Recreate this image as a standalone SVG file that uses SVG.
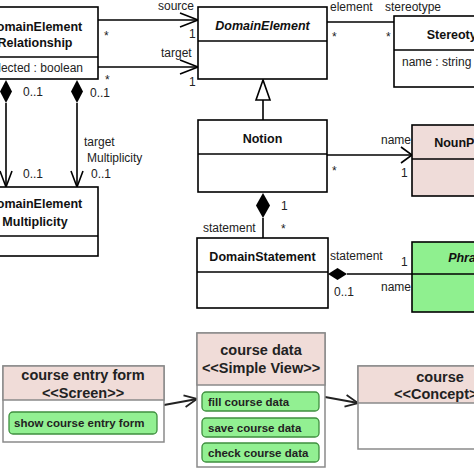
<svg xmlns="http://www.w3.org/2000/svg" width="474" height="474" viewBox="0 0 474 474">
<style>
.box{fill:#fff;stroke:#000;stroke-width:1.6}
.pink{fill:#efdcd9;stroke:#000;stroke-width:1.6}
.green{fill:#8ff08f;stroke:#000;stroke-width:1.6}
.ln{stroke:#000;stroke-width:1.6;fill:none}
.t{font-family:"Liberation Sans",Arial,sans-serif;font-size:12px;fill:#222}
.b{font-family:"Liberation Sans",Arial,sans-serif;font-size:12.5px;font-weight:bold;fill:#111;text-anchor:middle}
.bi{font-style:italic}
.gbox{fill:#fff;stroke:#8a8a8a;stroke-width:1.5}
.ghead{fill:#f0dcd8;stroke:#8a8a8a;stroke-width:1.5}
.item{fill:#92f092;stroke:#3f8f3f;stroke-width:1.3}
.h{font-family:"Liberation Sans",Arial,sans-serif;font-size:14.5px;font-weight:bold;fill:#222;text-anchor:middle}
.it{font-family:"Liberation Sans",Arial,sans-serif;font-size:11.5px;font-weight:bold;fill:#222}
.arr{stroke:#222;stroke-width:1.8;fill:none}
</style>
<rect width="474" height="474" fill="#fff"/>
<g id="connectors">
  <line class="ln" x1="98" y1="20" x2="198" y2="20"/>
  <polyline class="ln" points="180,13 198,20 180,27"/>
  <line class="ln" x1="98" y1="67" x2="198" y2="67"/>
  <polyline class="ln" points="180,60 198,67 180,74"/>
  <line class="ln" x1="327" y1="22" x2="394" y2="22"/>
  <line class="ln" x1="263" y1="100" x2="263" y2="120"/>
  <polygon class="box" points="263,80 256,100 270,100"/>
  <line class="ln" x1="327" y1="155" x2="412" y2="155"/>
  <polyline class="ln" points="401,147 412,155 401,163"/>
  <line class="ln" x1="263" y1="218" x2="263" y2="238"/>
  <polygon points="263,193 270,205.5 263,218 256,205.5" fill="#000"/>
  <line class="ln" x1="347" y1="274" x2="412" y2="274"/>
  <polygon points="328,274 337.5,268 347,274 337.5,280" fill="#000"/>
  <line class="ln" x1="6" y1="103" x2="6" y2="187"/>
  <polygon points="6,80 12,91.5 6,103 0,91.5" fill="#000"/>
  <polyline class="ln" points="0,171 6,187 12,171"/>
  <line class="ln" x1="77" y1="103" x2="77" y2="187"/>
  <polygon points="77,80 83,91.5 77,103 71,91.5" fill="#000"/>
  <polyline class="ln" points="71,171 77,187 83,171"/>
  <line class="arr" x1="164" y1="405" x2="197" y2="399"/>
  <polyline class="arr" points="183.5,395.4 197,399 185.6,407.1"/>
  <line class="arr" x1="325" y1="397" x2="358" y2="403"/>
  <polyline class="arr" points="346.6,394.9 358,403 344.5,406.6"/>
  <text class="t" x="158" y="10">source</text>
  <text class="t" x="104" y="40">*</text>
  <text class="t" x="189" y="38">1</text>
  <text class="t" x="161" y="57">target</text>
  <text class="t" x="105" y="84">*</text>
  <text class="t" x="189" y="86">1</text>
  <text class="t" x="330" y="11">element</text>
  <text class="t" x="385" y="11">stereotype</text>
  <text class="t" x="332" y="41">*</text>
  <text class="t" x="386" y="41">*</text>
  <text class="t" x="381" y="144">name</text>
  <text class="t" x="332" y="175">*</text>
  <text class="t" x="401" y="177">1</text>
  <text class="t" x="281" y="210">1</text>
  <text class="t" x="281" y="233">*</text>
  <text class="t" x="203" y="232">statement</text>
  <text class="t" x="330" y="260">statement</text>
  <text class="t" x="401" y="266">1</text>
  <text class="t" x="381" y="291">name</text>
  <text class="t" x="334" y="296">0..1</text>
  <text class="t" x="23" y="96">0..1</text>
  <text class="t" x="90" y="97">0..1</text>
  <text class="t" x="23" y="178">0..1</text>
  <text class="t" x="84" y="146">target</text>
  <text class="t" x="87" y="162">Multiplicity</text>
  <text class="t" x="91" y="178">0..1</text>
</g>
<g id="DomainElementRelationship">
  <rect class="box" x="-28" y="7" width="126" height="72"/>
  <line class="ln" x1="-28" y1="57" x2="98" y2="57"/>
  <text class="b" x="35" y="31">DomainElement</text>
  <text class="b" x="35" y="47">Relationship</text>
  <text class="t" x="83" y="72" text-anchor="end">selected : boolean</text>
</g>
<g id="DomainElement">
  <rect class="box" x="198" y="7" width="129" height="72"/>
  <line class="ln" x1="198" y1="41" x2="327" y2="41"/>
  <text class="b bi" x="262.5" y="30">DomainElement</text>
</g>
<g id="Stereotype">
  <rect class="box" x="394" y="16" width="130" height="71"/>
  <line class="ln" x1="394" y1="50" x2="524" y2="50"/>
  <text class="b" x="459" y="39">Stereotype</text>
  <text class="t" x="402" y="66">name : string</text>
</g>
<g id="Notion">
  <rect class="box" x="198" y="120" width="129" height="72"/>
  <line class="ln" x1="198" y1="154" x2="327" y2="154"/>
  <text class="b" x="262.5" y="143">Notion</text>
</g>
<g id="NounPhrase">
  <rect class="pink" x="412" y="125" width="118" height="71"/>
  <line class="ln" x1="412" y1="159" x2="530" y2="159"/>
  <text class="b" x="471" y="147">NounPhrase</text>
</g>
<g id="DomainElementMultiplicity">
  <rect class="box" x="-28" y="187" width="126" height="69"/>
  <line class="ln" x1="-28" y1="236" x2="98" y2="236"/>
  <text class="b" x="35" y="208">DomainElement</text>
  <text class="b" x="35" y="226">Multiplicity</text>
</g>
<g id="DomainStatement">
  <rect class="box" x="197" y="238" width="131" height="70"/>
  <line class="ln" x1="197" y1="272" x2="328" y2="272"/>
  <text class="b" x="262.5" y="261">DomainStatement</text>
</g>
<g id="Phrase">
  <rect class="green" x="412" y="242" width="114" height="70"/>
  <line class="ln" x1="412" y1="274" x2="526" y2="274"/>
  <text class="b bi" x="469" y="262">Phrase</text>
</g>
<g id="courseEntryForm">
  <rect class="gbox" x="3" y="366" width="161" height="76"/>
  <rect class="ghead" x="3" y="366" width="161" height="34"/>
  <text class="h" x="83" y="380">course entry form</text>
  <text class="h" x="83" y="398">&lt;&lt;Screen&gt;&gt;</text>
  <rect class="item" x="9" y="412" width="148" height="22" rx="4"/>
  <text class="it" x="14" y="427">show course entry form</text>
</g>
<g id="courseData">
  <rect class="gbox" x="197" y="333" width="128" height="134"/>
  <rect class="ghead" x="197" y="333" width="128" height="52"/>
  <text class="h" x="261" y="355">course data</text>
  <text class="h" x="261" y="373">&lt;&lt;Simple View&gt;&gt;</text>
  <rect class="item" x="202" y="392" width="117" height="19" rx="4"/>
  <text class="it" x="208" y="406">fill course data</text>
  <rect class="item" x="202" y="418" width="117" height="19" rx="4"/>
  <text class="it" x="208" y="432">save course data</text>
  <rect class="item" x="202" y="443" width="117" height="19" rx="4"/>
  <text class="it" x="208" y="457">check course data</text>
</g>
<g id="course">
  <rect class="gbox" x="358" y="366" width="164" height="83"/>
  <rect class="ghead" x="358" y="366" width="164" height="37"/>
  <text class="h" x="440" y="382">course</text>
  <text class="h" x="440" y="399">&lt;&lt;Concept&gt;&gt;</text>
</g>
</svg>
